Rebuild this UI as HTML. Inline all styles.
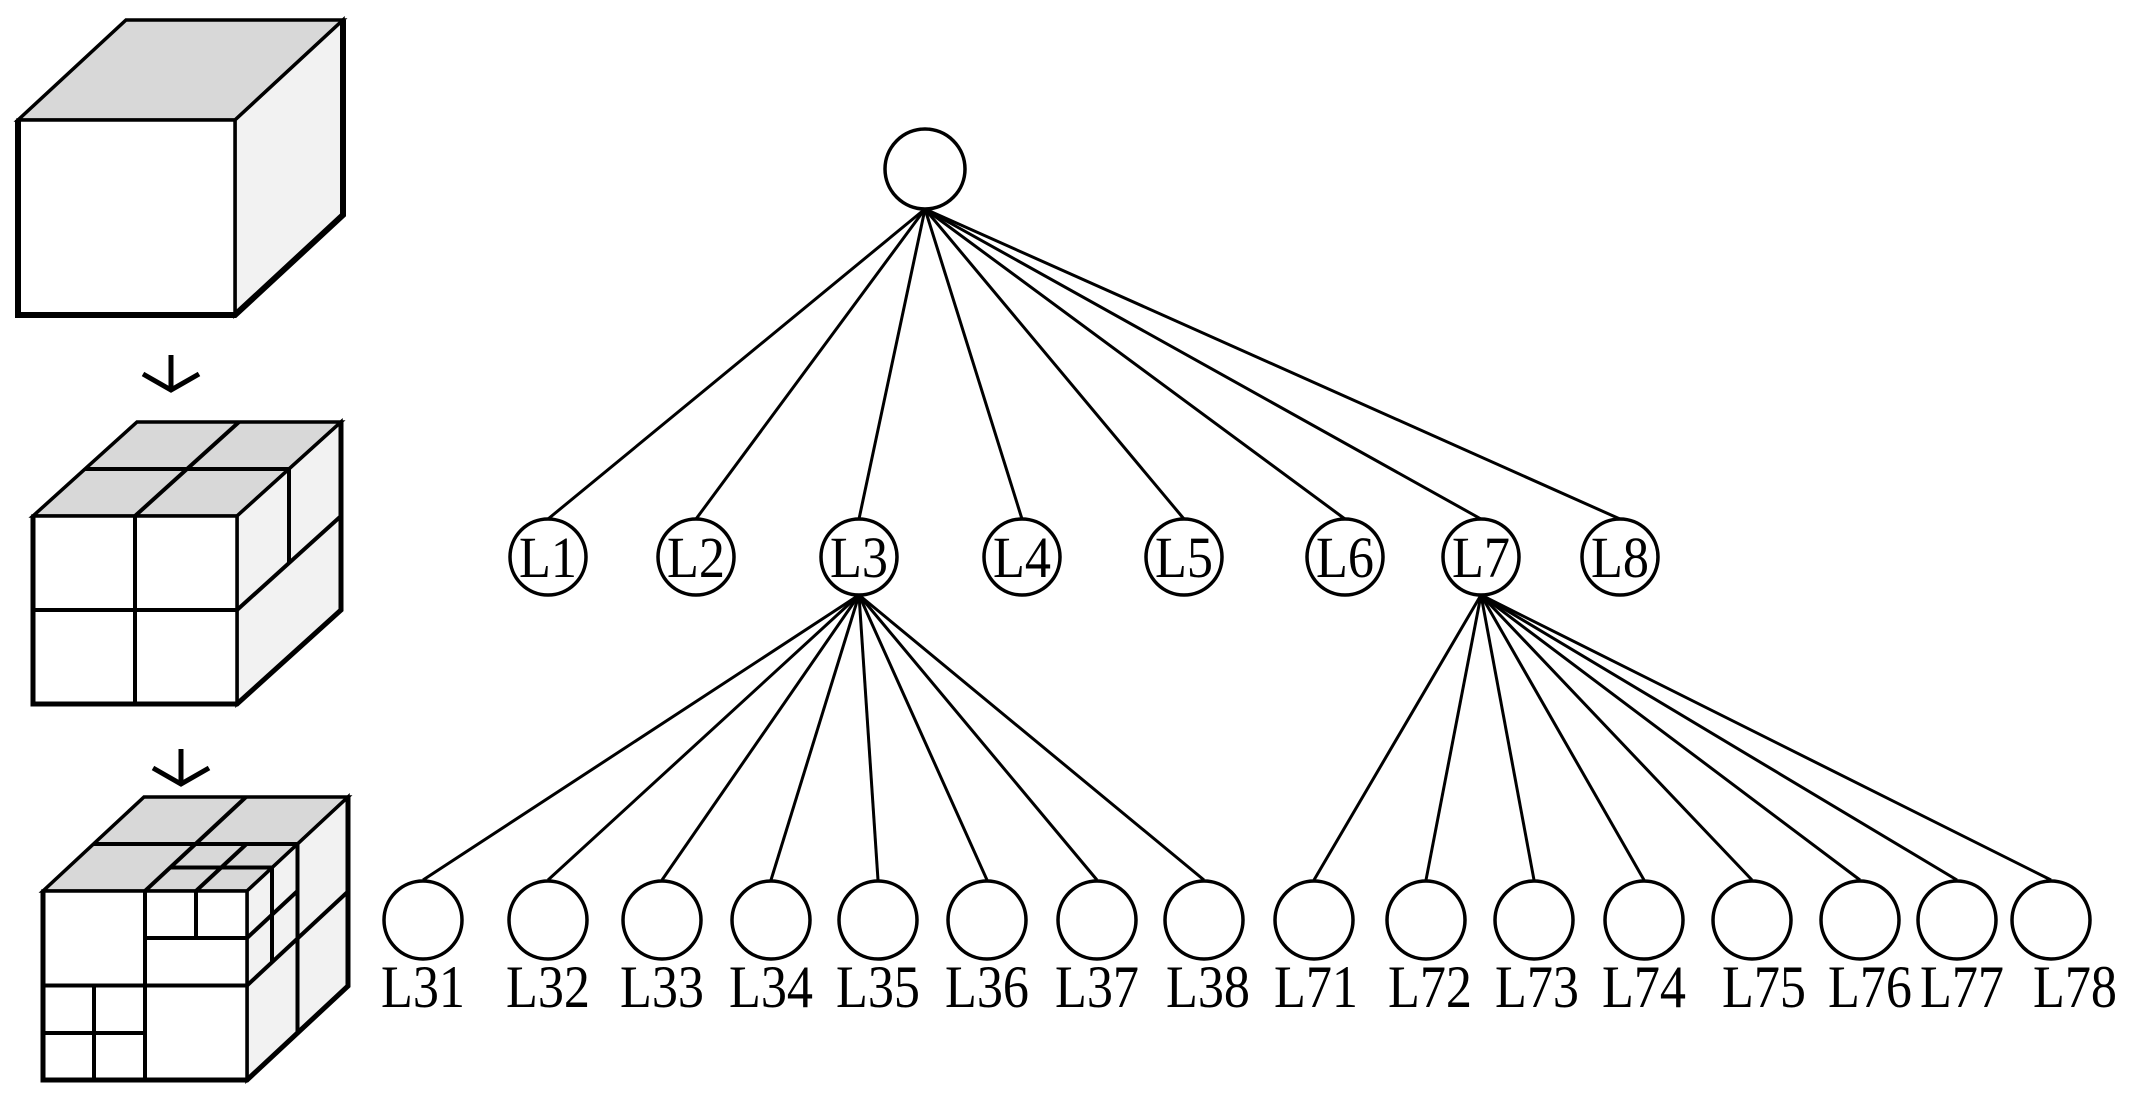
<!DOCTYPE html>
<html><head><meta charset="utf-8"><style>html,body{margin:0;padding:0;background:#fff}svg{display:block}</style></head>
<body>
<svg width="2131" height="1105" viewBox="0 0 2131 1105" xmlns="http://www.w3.org/2000/svg" font-family="Liberation Serif, serif">
<g stroke="#000" stroke-linejoin="miter" stroke-linecap="butt">
<!-- cube 1 -->
<polygon points="18,120 235,120 343,20 126,20" fill="#d8d8d8" stroke-width="3.5"/>
<polygon points="235,120 343,20 343,215 235,315" fill="#f2f2f2" stroke-width="3.5"/>
<rect x="18" y="120" width="217" height="195" fill="#fff" stroke-width="3.5"/>
<polyline points="18,120 18,315 235,315 343,215 343,20" fill="none" stroke-width="6"/>
<!-- arrow 1 -->
<polyline points="143,374 171,390 199,374" fill="none" stroke-width="5"/>
<line x1="171" y1="355" x2="171" y2="390" stroke-width="5"/>
<!-- cube 2 -->
<polygon points="33,516 237,516 341,422 137,422" fill="#d8d8d8" stroke-width="3.5"/>
<polygon points="237,516 341,422 341,610 237,704" fill="#f2f2f2" stroke-width="3.5"/>
<rect x="33" y="516" width="204" height="188" fill="#fff" stroke-width="3.5"/>
<g stroke-width="4" fill="none">
<line x1="135" y1="516" x2="135" y2="704"/><line x1="135" y1="516" x2="239" y2="422"/>
<line x1="33" y1="610" x2="237" y2="610"/><line x1="237" y1="610" x2="341" y2="516"/>
<line x1="85" y1="469" x2="289" y2="469"/><line x1="289" y1="469" x2="289" y2="563"/>
</g>
<polyline points="33,516 33,704 237,704 341,610 341,422" fill="none" stroke-width="5"/>
<!-- arrow 2 -->
<polyline points="153,768 181,784 209,768" fill="none" stroke-width="5"/>
<line x1="181" y1="749" x2="181" y2="784" stroke-width="5"/>
<!-- cube 3 -->
<polygon points="43,891 247,891 348,797 144,797" fill="#d8d8d8" stroke-width="3.5"/>
<polygon points="247,891 348,797 348,986 247,1080" fill="#f2f2f2" stroke-width="3.5"/>
<rect x="43" y="891" width="204" height="189" fill="#fff" stroke-width="3.5"/>
<g stroke-width="4" fill="none">
<line x1="145" y1="891" x2="145" y2="1080"/><line x1="145" y1="891" x2="246" y2="797"/>
<line x1="43" y1="985.5" x2="247" y2="985.5"/><line x1="247" y1="985.5" x2="348" y2="891.5"/>
<line x1="93.5" y1="844" x2="297.5" y2="844"/><line x1="297.5" y1="844" x2="297.5" y2="1033"/>
<line x1="196" y1="891" x2="196" y2="938"/><line x1="196" y1="891" x2="246.5" y2="844"/>
<line x1="145" y1="938" x2="247" y2="938"/><line x1="247" y1="938" x2="297.5" y2="891"/>
<line x1="170" y1="867.5" x2="272" y2="867.5"/><line x1="272" y1="867.5" x2="272" y2="962"/>
<line x1="94" y1="985.5" x2="94" y2="1080"/><line x1="43" y1="1033" x2="145" y2="1033"/>
</g>
<polyline points="43,891 43,1080 247,1080 348,986 348,797" fill="none" stroke-width="5"/>

<!-- tree lines -->
<g stroke-width="3">
<line x1="925" y1="209" x2="548" y2="519"/><line x1="925" y1="209" x2="696" y2="519"/>
<line x1="925" y1="209" x2="859" y2="519"/><line x1="925" y1="209" x2="1022" y2="519"/>
<line x1="925" y1="209" x2="1184" y2="519"/><line x1="925" y1="209" x2="1345" y2="519"/>
<line x1="925" y1="209" x2="1481" y2="519"/><line x1="925" y1="209" x2="1620" y2="519"/>
<line x1="859" y1="595" x2="423" y2="880"/><line x1="859" y1="595" x2="548" y2="880"/>
<line x1="859" y1="595" x2="662" y2="880"/><line x1="859" y1="595" x2="771" y2="880"/>
<line x1="859" y1="595" x2="878" y2="880"/><line x1="859" y1="595" x2="987" y2="880"/>
<line x1="859" y1="595" x2="1097" y2="880"/><line x1="859" y1="595" x2="1204" y2="880"/>
<line x1="1481" y1="595" x2="1314" y2="880"/><line x1="1481" y1="595" x2="1426" y2="880"/>
<line x1="1481" y1="595" x2="1534" y2="880"/><line x1="1481" y1="595" x2="1644" y2="880"/>
<line x1="1481" y1="595" x2="1752" y2="880"/><line x1="1481" y1="595" x2="1860" y2="880"/>
<line x1="1481" y1="595" x2="1957" y2="880"/><line x1="1481" y1="595" x2="2051" y2="880"/>
</g>
<g fill="#fff" stroke-width="3.5">
<circle cx="925" cy="169" r="40"/>
<circle cx="548" cy="557" r="38"/><circle cx="696" cy="557" r="38"/><circle cx="859" cy="557" r="38"/><circle cx="1022" cy="557" r="38"/>
<circle cx="1184" cy="557" r="38"/><circle cx="1345" cy="557" r="38"/><circle cx="1481" cy="557" r="38"/><circle cx="1620" cy="557" r="38"/>
<circle cx="423" cy="920" r="39"/><circle cx="548" cy="920" r="39"/><circle cx="662" cy="920" r="39"/><circle cx="771" cy="920" r="39"/>
<circle cx="878" cy="920" r="39"/><circle cx="987" cy="920" r="39"/><circle cx="1097" cy="920" r="39"/><circle cx="1204" cy="920" r="39"/>
<circle cx="1314" cy="920" r="39"/><circle cx="1426" cy="920" r="39"/><circle cx="1534" cy="920" r="39"/><circle cx="1644" cy="920" r="39"/>
<circle cx="1752" cy="920" r="39"/><circle cx="1860" cy="920" r="39"/><circle cx="1957" cy="920" r="39"/><circle cx="2051" cy="920" r="39"/>
</g>
</g>
<g font-size="58" text-anchor="middle" fill="#000">
<text x="548" y="577" textLength="58" lengthAdjust="spacingAndGlyphs">L1</text>
<text x="696" y="577" textLength="58" lengthAdjust="spacingAndGlyphs">L2</text>
<text x="859" y="577" textLength="58" lengthAdjust="spacingAndGlyphs">L3</text>
<text x="1022" y="577" textLength="58" lengthAdjust="spacingAndGlyphs">L4</text>
<text x="1184" y="577" textLength="58" lengthAdjust="spacingAndGlyphs">L5</text>
<text x="1345" y="577" textLength="58" lengthAdjust="spacingAndGlyphs">L6</text>
<text x="1481" y="577" textLength="58" lengthAdjust="spacingAndGlyphs">L7</text>
<text x="1620" y="577" textLength="58" lengthAdjust="spacingAndGlyphs">L8</text>
</g>
<g font-size="60" text-anchor="middle" fill="#000">
<text x="423" y="1007" textLength="84" lengthAdjust="spacingAndGlyphs">L31</text>
<text x="548" y="1007" textLength="84" lengthAdjust="spacingAndGlyphs">L32</text>
<text x="662" y="1007" textLength="84" lengthAdjust="spacingAndGlyphs">L33</text>
<text x="771" y="1007" textLength="84" lengthAdjust="spacingAndGlyphs">L34</text>
<text x="878" y="1007" textLength="84" lengthAdjust="spacingAndGlyphs">L35</text>
<text x="987" y="1007" textLength="84" lengthAdjust="spacingAndGlyphs">L36</text>
<text x="1097" y="1007" textLength="84" lengthAdjust="spacingAndGlyphs">L37</text>
<text x="1208" y="1007" textLength="84" lengthAdjust="spacingAndGlyphs">L38</text>
<text x="1316" y="1007" textLength="84" lengthAdjust="spacingAndGlyphs">L71</text>
<text x="1430" y="1007" textLength="84" lengthAdjust="spacingAndGlyphs">L72</text>
<text x="1537" y="1007" textLength="84" lengthAdjust="spacingAndGlyphs">L73</text>
<text x="1644" y="1007" textLength="84" lengthAdjust="spacingAndGlyphs">L74</text>
<text x="1764" y="1007" textLength="84" lengthAdjust="spacingAndGlyphs">L75</text>
<text x="1870" y="1007" textLength="84" lengthAdjust="spacingAndGlyphs">L76</text>
<text x="1962" y="1007" textLength="84" lengthAdjust="spacingAndGlyphs">L77</text>
<text x="2075" y="1007" textLength="84" lengthAdjust="spacingAndGlyphs">L78</text>
</g>
</svg>
</body></html>
